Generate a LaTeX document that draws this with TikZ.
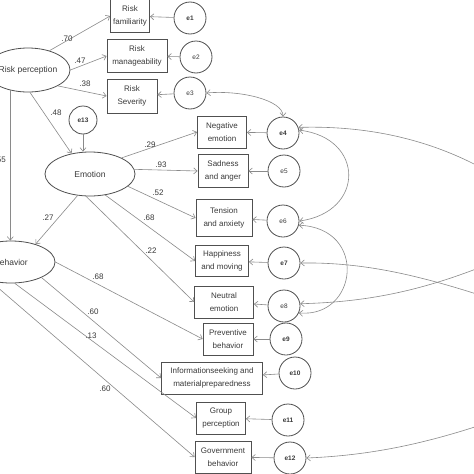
\documentclass[tikz,border=0pt]{standalone}
\usepackage{fontspec}
\setmainfont{Liberation Sans}
\usetikzlibrary{shapes.geometric,arrows.meta}
\definecolor{ln}{HTML}{8A8A8A}
\definecolor{bd}{HTML}{505050}
\definecolor{tx}{HTML}{3A3A3A}
\begin{document}
\begin{tikzpicture}[x=1pt,y=-1pt,
 box/.style={draw=bd, line width=0.8pt, rectangle, align=center, font=\fontsize{8}{13}\selectfont, text=tx, inner sep=1pt, minimum height=32pt},
 lat/.style={draw=bd, line width=0.8pt, ellipse, inner sep=0pt, font=\fontsize{8.5}{10}\selectfont, text=tx},
 err/.style={draw=bd, line width=0.8pt, circle, minimum size=32pt, inner sep=0pt, font=\fontsize{6.5}{8}\selectfont, text=tx},
 arr/.style={draw=ln, line width=0.6pt, -{Straight Barb[length=3.5pt,width=6pt]}},
 cov/.style={draw=ln, line width=0.6pt, {Straight Barb[length=3.5pt,width=6pt]}-{Straight Barb[length=3.5pt,width=6pt]}},
 coef/.style={font=\fontsize{8}{9}\selectfont, text=tx, inner sep=0pt}]
\useasboundingbox (0,0) rectangle (474,474);
\clip (0,0) rectangle (474,474);
\fill[white] (0,0) rectangle (474,474);

% latent variables
\node[lat, minimum width=84pt, minimum height=44pt] (rp) at (28,70) {Risk perception};
\node[lat, minimum width=90pt, minimum height=44pt] (emo) at (90,174) {Emotion};
\node[lat, minimum width=88pt, minimum height=42pt] (beh) at (11,262) {Behavior};

% observed variables
\node[box, minimum width=39pt, minimum height=33pt] (fam) at (130,16) {Risk\\familiarity};
\node[box, minimum width=60pt, minimum height=33pt] (man) at (137,56) {Risk\\manageability};
\node[box, minimum width=50pt, minimum height=34pt] (sev) at (132,96) {Risk\\Severity};
\node[box, minimum width=49pt] (neg) at (222,132) {Negative\\emotion};
\node[box, minimum width=50pt, minimum height=33pt] (sad) at (223,171) {Sadness\\and anger};
\node[box, minimum width=56pt, minimum height=37pt] (ten) at (224,218) {Tension\\and anxiety};
\node[box, minimum width=53pt, minimum height=31pt] (hap) at (222,261) {Happiness\\and moving};
\node[box, minimum width=59pt] (neu) at (224,302) {Neutral\\emotion};
\node[box, minimum width=50pt] (pre) at (228,339) {Preventive\\behavior};
\node[box, minimum width=101pt] (info) at (212,378) {Informationseeking and\\materialpreparedness};
\node[box, minimum width=49pt] (grp) at (221,418) {Group\\perception};
\node[box, minimum width=56pt] (gov) at (223,457) {Government\\behavior};

% error terms
\node[err] (e1) at (190,18) {\textbf{e1}};
\node[err] (e2) at (196,57) {e2};
\node[err] (e3) at (190,93) {e3};
\node[err] (e4) at (283,133) {\textbf{e4}};
\node[err] (e5) at (284,171) {e5};
\node[err] (e6) at (283,221) {e6};
\node[err] (e7) at (284,263) {\textbf{e7}};
\node[err] (e8) at (284,306) {e8};
\node[err] (e9) at (286,339) {\textbf{e9}};
\node[err] (e10) at (295,373) {\textbf{e10}};
\node[err] (e11) at (288,420) {\textbf{e11}};
\node[err] (e12) at (290,458) {\textbf{e12}};
\node[err, minimum size=28pt] (e13) at (83,120) {\textbf{e13}};

% structural paths
\draw[arr] (rp.42) -- (fam.west);
\draw[arr] (rp.0) -- (man.west);
\draw[arr] (rp.-28) -- (sev.west);
\draw[arr] (rp.-85) -- (emo.132);
\draw[arr] (rp.-131) -- (rp.-131 |- beh.north);
\draw[arr] (e13.south) -- (e13.south |- emo.north);

\draw[arr] (emo.27) -- (neg.west);
\draw[arr] (emo.6) -- (sad.west);
\draw[arr] (emo.-18) -- (ten.west);
\draw[arr] (emo.-54) -- (hap.west);
\draw[arr] (emo.-100) -- (neu.west);
\draw[arr] (emo.-120) -- (beh.36);

\draw[arr] (beh.0) -- (pre.west);
\draw[arr] (beh.-27) -- (info.west);
\draw[arr] (beh.-80) -- (grp.west);
\draw[arr] (beh.-138) -- (gov.west);

% error arrows
\draw[arr] (e1) -- (fam);
\draw[arr] (e2) -- (man);
\draw[arr] (e3) -- (sev);
\draw[arr] (e4) -- (neg);
\draw[arr] (e5) -- (sad);
\draw[arr] (e6) -- (ten);
\draw[arr] (e7) -- (hap);
\draw[arr] (e8) -- (neu);
\draw[arr] (e9) -- (pre);
\draw[arr] (e10) -- (info);
\draw[arr] (e11) -- (grp);
\draw[arr] (e12) -- (gov);

% coefficients
\node[coef] at (67,39) {.70};
\node[coef] at (80,61) {.47};
\node[coef] at (85,84) {.38};
\node[coef] at (56,113) {.48};
\node[coef, anchor=east] at (6,160) {.55};
\node[coef] at (150,145) {.29};
\node[coef] at (161,165) {.93};
\node[coef] at (158,193) {.52};
\node[coef] at (149,218) {.68};
\node[coef] at (151,251) {.22};
\node[coef] at (48,218) {.27};
\node[coef] at (98,277) {.68};
\node[coef] at (93,312) {.60};
\node[coef] at (91,336) {.13};
\node[coef] at (105,389) {.60};

% covariances
\coordinate (o4) at (510,185);
\coordinate (o7) at (510,305);
\coordinate (o8) at (510,255);
\coordinate (o12) at (510,415);
\draw[cov] (e3.east) .. controls (240,90) and (283,100) .. (e4.north);
\draw[cov] (e4.10) .. controls (365,138) and (365,212) .. (e6.0);
\draw[cov] (e6.-15) .. controls (368,228) and (358,318) .. (e8.-25);
\draw[cov] (e4.20) .. controls (380,125) and (450,145) .. (o4);
\draw[cov] (e7.east) .. controls (370,262) and (430,278) .. (o7);
\draw[cov] (e8.8) .. controls (370,302) and (430,290) .. (o8);
\draw[cov] (e12.east) .. controls (380,455) and (440,440) .. (o12);
\end{tikzpicture}
\end{document}
